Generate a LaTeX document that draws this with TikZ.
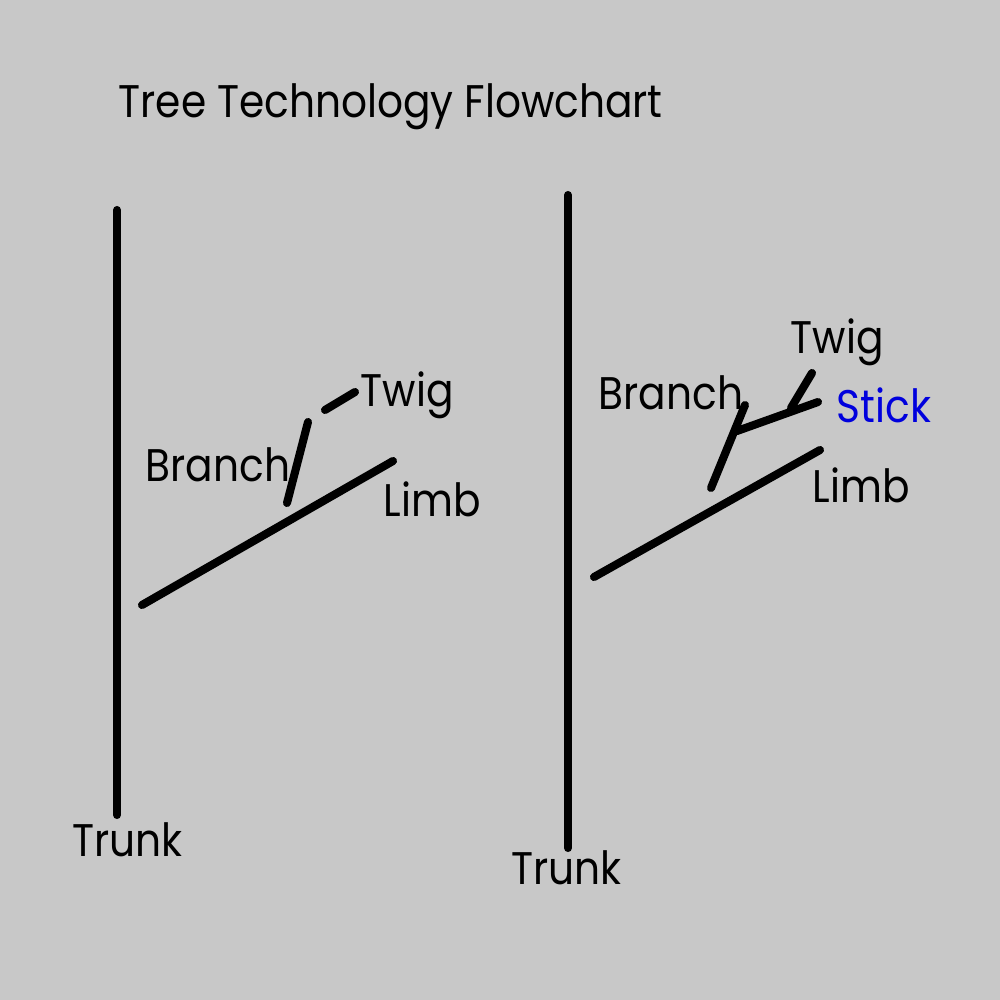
\documentclass[tikz,border=0pt]{standalone}
\usepackage{fontspec}
\setmainfont[FakeStretch=0.89]{Poppins}
\definecolor{paper}{HTML}{C8C8C8}
\definecolor{stickblue}{HTML}{0000DD}

\begin{document}
\begin{tikzpicture}[x=0.01cm, y=-0.01cm,
    stem/.style={line width=2.3pt, line cap=round},
    lbl/.style={anchor=base west, inner sep=0pt, font=\fontsize{13}{15}\selectfont}]
  \fill[paper] (0,0) rectangle (1000,1000);
  \useasboundingbox (0,0) rectangle (1000,1000);

  \node[lbl] (title) at (118,117) {Tree Technology Flowchart};

  % left tree
  \coordinate (trunkA1) at (117,210);
  \coordinate (trunkA2) at (117,815);
  \coordinate (limbA1) at (142,605);
  \coordinate (limbA2) at (393,461);
  \coordinate (branchA1) at (287,503);
  \coordinate (branchA2) at (308,422);
  \coordinate (twigA1) at (325,410);
  \coordinate (twigA2) at (355,392);
  \node[lbl] (twigAl) at (360,406) {Twig};
  \node[lbl] (branchAl) at (145,481) {Branch};
  \node[lbl] (limbAl) at (383,516) {Limb};
  \node[lbl] (trunkAl) at (72,856) {Trunk};
  \draw[stem] (trunkA1) -- (trunkA2);
  \draw[stem] (limbA1) -- (limbA2);
  \draw[stem] (branchA1) -- (branchA2);
  \draw[stem] (twigA1) -- (twigA2);

  % right tree
  \coordinate (trunkB1) at (568,195);
  \coordinate (trunkB2) at (568,848);
  \coordinate (limbB1) at (594,577);
  \coordinate (limbB2) at (820,450);
  \coordinate (branchB1) at (711,488);
  \coordinate (branchB2) at (745,405);
  \coordinate (stickB1) at (737,431);
  \coordinate (stickB2) at (818,402);
  \coordinate (twigB1) at (791,408);
  \coordinate (twigB2) at (812,373);
  \node[lbl] (twigBl) at (790,353) {Twig};
  \node[lbl] (branchBl) at (598,409) {Branch};
  \node[lbl, text=stickblue] (stickBl) at (836,422) {Stick};
  \node[lbl] (limbBl) at (812,502) {Limb};
  \node[lbl] (trunkBl) at (511,884) {Trunk};
  \draw[stem] (trunkB1) -- (trunkB2);
  \draw[stem] (limbB1) -- (limbB2);
  \draw[stem] (branchB1) -- (branchB2);
  \draw[stem] (stickB1) -- (stickB2);
  \draw[stem] (twigB1) -- (twigB2);
\end{tikzpicture}
\end{document}
